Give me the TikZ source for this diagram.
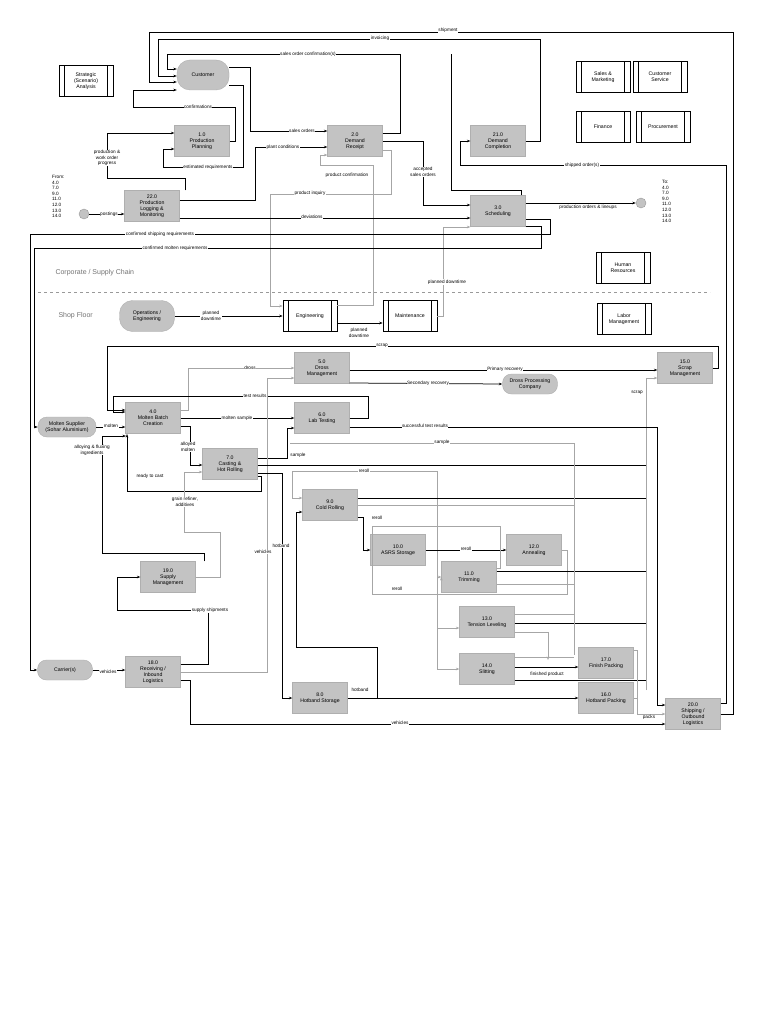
\documentclass[tikz,border=0pt]{standalone}
\usepackage{fontspec}
\setmainfont{Liberation Sans}
\usetikzlibrary{arrows.meta,calc}
\definecolor{pfill}{HTML}{C3C3C3}
\newcommand\sm{\fontsize{4.7}{5.6}\selectfont}
\newcommand\bx{\fontsize{5.2}{6.1}\selectfont}
\tikzset{
 proc/.style={fill=pfill,draw=pfill!90!black,line width=0.3pt,minimum width=55pt,minimum height=31pt,align=center,font=\bx,inner sep=1pt},
 term/.style={fill=pfill,draw=pfill!90!black,rounded corners=9pt,minimum width=55pt,minimum height=20pt,align=center,font=\bx,inner sep=1pt},
 ext/.style={draw,line width=0.8pt,minimum width=54pt,minimum height=31pt,align=center,font=\bx,inner sep=1pt},
 ar/.style={-{Stealth[length=3.5pt,width=2.6pt]},line width=0.75pt},
 ln/.style={line width=0.75pt},
 gr/.style={-{Stealth[length=3.5pt,width=2.6pt]},line width=0.5pt,black!35},
 gl/.style={line width=0.5pt,black!35},
 lb/.style={fill=white,inner sep=0.5pt,font=\sm,align=center},
 lbn/.style={inner sep=0.5pt,font=\sm,align=center},
}
\newcommand\extbars[1]{\draw[line width=0.8pt] ($(#1.north west)+(6,0)$)--($(#1.south west)+(6,0)$) ($(#1.north east)+(-6,0)$)--($(#1.south east)+(-6,0)$);}
\begin{document}
\begin{tikzpicture}[x=1pt,y=-1pt]
\useasboundingbox[fill=white] (0,0) rectangle (768,1024);
% ---------- nodes
\node[term,minimum width=52pt,minimum height=30pt,rounded corners=13pt] (cust) at (203,75) {Customer};
\node[proc] (p1) at (202,141) {1.0\\Production\\Planning};
\node[proc] (p2) at (355,141) {2.0\\Demand\\Receipt};
\node[proc] (p21) at (498,141) {21.0\\Demand\\Completion};
\node[proc] (p22) at (152,206) {22.0\\Production\\Logging \&\\Monitoring};
\node[proc] (p3) at (498,211) {3.0\\Scheduling};
\node[ext] (sa) at (86,81) {Strategic\\(Scenario)\\Analysis}; \extbars{sa}
\node[ext] (sm) at (603,77) {Sales \&\\Marketing}; \extbars{sm}
\node[ext] (cs) at (660,77) {Customer\\Service}; \extbars{cs}
\node[ext] (fin) at (603,127) {Finance}; \extbars{fin}
\node[ext] (proc) at (663,127) {Procurement}; \extbars{proc}
\node[ext] (hr) at (623,268) {Human\\Resources}; \extbars{hr}
\node[ext] (lm) at (624,319) {Labor\\Management}; \extbars{lm}
\node[ext] (eng) at (310,316) {Engineering}; \extbars{eng}
\node[ext] (mnt) at (410,316) {Maintenance}; \extbars{mnt}
\node[term,minimum height=31pt,rounded corners=13pt] (ops) at (147,316) {Operations /\\Engineering};
\node[circle,fill=pfill,draw=black!40,minimum size=10pt,inner sep=0pt] (cin) at (84,214) {};
\node[circle,fill=pfill,draw=black!40,minimum size=10pt,inner sep=0pt] (cout) at (641,203) {};
\node[font=\sm,align=left,anchor=north west,inner sep=0pt] (from) at (52,175) {From:\\4.0\\7.0\\9.0\\11.0\\12.0\\13.0\\14.0};
\node[font=\sm,align=left,anchor=north west,inner sep=0pt] (to) at (662,180) {To:\\4.0\\7.0\\9.0\\11.0\\12.0\\13.0\\14.0};
\draw[dashed,black!40,line width=0.5pt] (38,292)--(710,292);
\node[text=black!55,font=\fontsize{7}{8}\selectfont,anchor=west] (corp) at (52,273) {Corporate / Supply Chain};
\node[text=black!55,font=\fontsize{7}{8}\selectfont,anchor=west] (shop) at (55,316) {Shop Floor};
% shop floor
\node[proc] (p5) at (322,368) {5.0\\Dross\\Management};
\node[proc] (p15) at (685,368) {15.0\\Scrap\\Management};
\node[term] (dpc) at (530,384) {Dross Processing\\Company};
\node[proc] (p4) at (153,418) {4.0\\Molten Batch\\Creation};
\node[proc] (p6) at (322,418) {6.0\\Lab Testing};
\node[term,minimum width=58pt] (ms) at (67,427) {Molten Supplier\\(Sohar Aluminium)};
\node[proc] (p7) at (230,464) {7.0\\Casting \&\\Hot Rolling};
\node[proc] (p9) at (330,505) {9.0\\Cold Rolling};
\node[proc] (p10) at (398,550) {10.0\\ASRS Storage};
\node[proc] (p12) at (534,550) {12.0\\Annealing};
\node[proc] (p11) at (469,577) {11.0\\Trimming};
\node[proc] (p19) at (168,577) {19.0\\Supply\\Management};
\node[proc] (p13) at (487,622) {13.0\\Tension Leveling};
\node[proc] (p14) at (487,669) {14.0\\Slitting};
\node[proc] (p17) at (606,663) {17.0\\Finish Packing};
\node[proc] (p16) at (606,698) {16.0\\Hotband Packing};
\node[proc] (p8) at (320,698) {8.0\\Hotband Storage};
\node[proc] (p18) at (153,672) {18.0\\Receiving /\\Inbound\\Logistics};
\node[term] (car) at (65,670) {Carrier(s)};
\node[proc] (p20) at (693,714) {20.0\\Shipping /\\Outbound\\Logistics};
% ---------- corporate connectors
\draw[ar] (p20.east |- 0,714) -| (733,32) -| (149,82) -- (cust.west |- 0,82);
\node[lb] (l1) at (448,30) {shipment};
\draw[ar] (p21.east) -| (540,39) -| (158,76) -- (cust.west |- 0,76);
\node[lb] (l2) at (380,38) {invoicing};
\draw[ar] (p2.east |- 0,133) -| (400,54) -| (167,69) -- (cust.west |- 0,69);
\draw[ln] (p3.north -| 521,0) |- (451,190) -- (451,54);
\node[lb] (l3) at (308,54) {sales order confirmation(s)};
\draw[ar] (cust.east |- 0,67) -| (250,131) -- (p2.west |- 0,131);
\node[lb] (l4) at (302,131) {sales orders};
\draw[ar] (cust.east |- 0,85) -| (243,167) -| (163,149) -- (p1.west |- 0,149);
\node[lb] (l5) at (208,167) {estimated requirements};
\draw[ar] (p1.east) -| (235,107) -| (133,90) -- (cust.west |- 0,90);
\node[lb] (l6) at (198,107) {confirmations};
\draw[ar] (p22.north -| 185,0) |- (107,178) |- (p1.west |- 0,133);
\node[lb] (l7) at (107,158) {production \&\\work order\\progress};
\draw[ar] (p22.east |- 0,200) -| (255,147) -- (p2.west |- 0,147);
\node[lb] (l8) at (283,147) {plant conditions};
\draw[gr] (eng.east |- 0,305) -| (373,165) -| (320,155) -- (p2.west |- 0,155);
\node[lb] (l9) at (347,175) {product confirmation};
\draw[gr] (p2.east |- 0,150) -| (391,194) -| (270,306) -- (eng.west |- 0,306);
\node[lb] (l10) at (310,193) {product inquiry};
\draw[gr] (mnt.east) -| (443,227) -- (p3.west |- 0,227);
\node[lb] (l11) at (447,282) {planned downtime};
\draw[ar] (p2.east) -| (423,205) -- (p3.west |- 0,205);
\node[lb] (l12) at (423,172) {accepted\\sales orders};
\draw[ar] (p22.east |- 0,218) -- (p3.west |- 0,218);
\node[lb] (l13) at (312,217) {deviations};
\draw[ar] (p3.east |- 0,203) -- (cout.west);
\node[lbn,anchor=north] (l14) at (588,204) {production orders \& lineups};
\draw[ar] (p3.east |- 0,219) -| (550,234) -| (30,670) -- (car.west);
\node[lb] (l15) at (160,234) {confirmed shipping requirements};
\draw[ar] (p3.east |- 0,226) -| (541,248) -| (34,427) -- (ms.west);
\node[lb] (l16) at (175,248) {confirmed molten requirements};
\draw[ar] (p20.east |- 0,703) -| (726,165) -| (460,141) -- (p21.west);
\node[lb] (l17) at (582,165) {shipped order(s)};
\draw[ar] (cin.east) -- (p22.west |- cin.east);
\node[lb] (l18) at (109,214) {postings};
\draw[ar] (ops.east) -- (eng.west);
\node[lb] (l19) at (211,316) {planned\\downtime};
\draw[ar] (eng.east |- 0,323) -- (mnt.west |- 0,323);
\node[lbn] (l20) at (359,333) {planned\\downtime};
% ---------- shop floor connectors
\draw[ar] (p15.east) -| (718,346) -| (107,410) -- (p4.west |- 0,410);
\node[lb] (l21) at (382,346) {scrap};
\draw[gr] (p4.east |- 0,410) -| (188,368) -- (p5.west);
\node[lb] (l22) at (250,368) {dross};
\draw[ar] (p5.east |- 0,370) -- (p15.west |- 0,370);
\node[lb] (l23) at (505,369) {Primary recovery};
\draw[ar] (p5.east |- 0,383) -- (dpc.west);
\node[lb] (l24) at (428,383) {Secondary recovery};
\draw[ar] (p6.east) -| (368,396) -| (113,412) -- (p4.west |- 0,412);
\node[lb] (l25) at (255,396) {test results};
\draw[ar] (p4.east |- 0,418) -- (p6.west);
\node[lb] (l26) at (237,418) {molten sample};
\draw[ar] (ms.east) -- (p4.west |- 0,427);
\node[lb] (l27) at (111,426) {molten};
\draw[ar] (p4.east |- 0,426) -| (190,465) -- (p7.west |- 0,465);
\node[lb] (l28) at (188,447) {alloyed\\molten};
\draw[ar] (p7.east |- 0,476) -| (261,491) -| (127,434);
\node[lbn] (l29) at (150,476) {ready to cast};
\draw[ar] (p19.north -| 204,0) |- (102,553) |- (126,436);
\node[lb] (l30) at (92,450) {alloying \& fluxing\\ingredients};
\draw[gr] (p19.east) -| (220,532) -| (184,472) -- (p7.west |- 0,472);
\node[lb] (l31) at (185,502) {grain refiner,\\additives};
\draw[ar] (p7.east |- 0,458) -| (287,428) -- (p6.west |- 0,428);
\node[lbn] (l32) at (298,455) {sample};
\draw[gr] (p18.east) -| (267,378) -- (p5.west |- 0,378);
\node[lb] (l33) at (263,552) {vehicles};
\draw[ar] (p7.east |- 0,473) -| (282,698) -- (p8.west);
\node[lb] (l34) at (281,546) {hotband};
\draw[gr] (p11.west |- 0,577) ++(0,0) coordinate (bt);
\draw[gr] (437,471) -| (292,498) -- (p9.west |- 0,498);
\node[lb] (l35) at (364,471) {reroll};
\draw[gl] (437,471) -- (437,669);
\draw[gr] (437,577) -- (p11.west);
\draw[gr] (437,628) -- (p13.west |- 0,628);
\draw[gr] (437,669) -- (p14.west);
\draw[ar] (p9.east |- 0,517) -| (363,550) -- (p10.west);
\node[lbn] (l36) at (377,518) {reroll};
\draw[ar] (p10.east) -- (p12.west);
\node[lb] (l37) at (466,549) {reroll};
\draw[gl] (p11.east |- 0,568) -| (500,526) -- (372,526) -- (372,594) -- (567,594) |- (p12.east);
\node[lb] (l38) at (397,589) {reroll};
% right side buses
\draw[gr] (646,690) -- (646,378) -- (p15.west |- 0,378);
\node[lbn] (l39) at (637,393) {scrap};
\draw[ln] (p7.east |- 0,465) -- (646,465);
\draw[ln] (p9.east |- 0,498) -- (646,498);
\draw[ln] (p11.east |- 0,571) -- (646,571);
\draw[ln] (p13.east |- 0,623) -- (646,623);
\draw[ln] (p14.east |- 0,680) -- (646,680);
\draw[ar] (p6.east |- 0,427) -| (657,705) -- (p20.west |- 0,705);
\node[lb] (l40) at (425,426) {successful test results};
\draw[gl] (290,443) -- (574,443) -- (574,655);
\node[lb] (l41) at (442,442) {sample};
\draw[gl] (p9.east |- 0,505) -- (574,505);
\draw[gl] (p11.east |- 0,584) -- (574,584);
\draw[gl] (p13.east |- 0,614) -- (574,614);
\draw[gl] (p14.east |- 0,657) -- (574,657);
\draw[gr] (p13.east |- 0,632) -| (548,660);
\draw[ar] (p14.east |- 0,667) -- (p17.west |- 0,667);
\node[lbn] (l42) at (547,674) {finished product};
\draw[ar] (p8.east) -- (p16.west);
\node[lbn] (l43) at (360,690) {hotband};
\draw[ar] (377,698) |- (296,647) |- (p9.west |- 0,512);
\draw[gr] (p17.east |- 0,650) -| (637,714) -- (p20.west |- 0,714);
\draw[gl] (p16.east) -- (637,698);
\node[lbn] (l44) at (649,717) {packs};
\draw[ar] (p18.east |- 0,664) -| (208,610) -| (117,577) -- (p19.west);
\node[lb] (l45) at (210,610) {supply shipments};
\draw[ar] (car.east) -- (p18.west |- car.east);
\node[lb] (l46) at (108,672) {vehicles};
\draw[ar] (p18.east |- 0,680) -| (190,724) -- (p20.west |- 0,724);
\node[lb] (l47) at (400,723) {vehicles};
\end{tikzpicture}
\end{document}
